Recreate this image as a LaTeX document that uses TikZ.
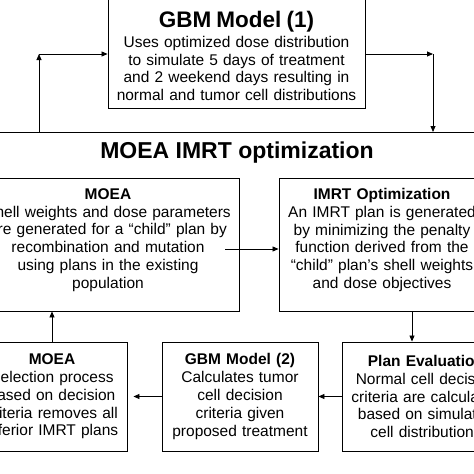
\documentclass[tikz,border=0pt]{standalone}
\usepackage{fontspec}
\setmainfont{Liberation Sans}
\usetikzlibrary{positioning,arrows.meta}

\begin{document}
\begin{tikzpicture}[x=1pt, y=-1pt,
    frame/.style={rectangle, draw, line width=0.9pt, inner sep=0pt},
    txt/.style={align=center, inner sep=0pt, font=\fontsize{15.5}{17.8}\selectfont},
    arr/.style={-{Triangle[length=6pt,width=5pt]}, line width=0.8pt}]
    \useasboundingbox (0,0) rectangle (474,474);
    \clip (0,0) rectangle (474,474);

    % outer frame and its heading
    \node [frame, minimum width=560pt, minimum height=420pt, anchor=north] (outer) at (237,132) {};
    \node [anchor=base, font=\fontsize{23}{26}\selectfont\bfseries] (head) at ([yshift=-26pt]outer.north) {MOEA IMRT optimization};

    % top box
    \node [frame, minimum width=257pt, minimum height=120pt] (gbmA) at (236.5,48) {};
    \node [txt, text width=257pt] (gbmAtext) at ([yshift=-8pt]gbmA.center) {{\fontsize{22.5}{24}\selectfont\bfseries GBM Model (1)}\\[2pt]
        Uses optimized dose distribution\\to simulate 5 days of treatment\\and 2 weekend days resulting in\\normal and tumor cell distributions};

    % middle row
    \node [frame, minimum width=262pt, minimum height=133pt] (moeaA) at (108,244.5) {};
    \node [txt, text width=262pt] (moeaAtext) at ([yshift=4.5pt]moeaA.center) {\textbf{MOEA}\\Shell weights and dose parameters\\are generated for a “child” plan by\\recombination and mutation\\using plans in the existing\\population};
    \node [frame, minimum width=206pt, minimum height=133pt] (imrt) at (382,244.5) {};
    \node [txt, text width=206pt] (imrttext) at ([yshift=4.5pt]imrt.center) {\textbf{IMRT Optimization}\\An IMRT plan is generated\\by minimizing the penalty\\function derived from the\\“child” plan’s shell weights\\and dose objectives};

    % bottom row
    \node [frame, minimum width=150pt, minimum height=109pt] (moeaB) at (52,396.5) {};
    \node [txt, text width=150pt] (moeaBtext) at (moeaB.center) {\textbf{MOEA}\\Selection process\\based on decision\\criteria removes all\\inferior IMRT plans};
    \node [frame, minimum width=156pt, minimum height=109pt] (gbmB) at (240,396.5) {};
    \node [txt, text width=156pt] (gbmBtext) at (gbmB.center) {\textbf{GBM Model (2)}\\Calculates tumor\\cell decision\\criteria given\\proposed treatment};
    \node [frame, minimum width=168pt, minimum height=109pt] (evalB) at (426,396.5) {};
    \node [txt, text width=168pt] (evalBtext) at (evalB.center) {\textbf{Plan Evaluation}\\Normal cell decision\\criteria are calculated\\based on simulated\\cell distributions};

    % connectors
    \coordinate (lc) at (39,54);
    \coordinate (rc) at (433,54);
    \draw [arr] (lc |- outer.north) -- (lc);
    \draw [arr] (lc) -- (lc -| gbmA.west);
    \draw [arr] (rc -| gbmA.east) -- (rc);
    \draw [arr] (rc) -- (rc |- outer.north);

    \coordinate (mid) at ([xshift=-14pt,yshift=-4.5pt]moeaA.east);
    \draw [arr] (mid) -- (mid -| imrt.west);
    \draw [arr] ([xshift=30pt]imrt.south) -- ([xshift=30pt]imrt.south |- evalB.north);
    \draw [arr] (evalB.west) -- (gbmB.east);
    \draw [arr] (gbmB.west) -- ([xshift=6pt]moeaB.east);
    \draw [arr] (moeaB.north) -- (moeaB.north |- moeaA.south);
\end{tikzpicture}
\end{document}
